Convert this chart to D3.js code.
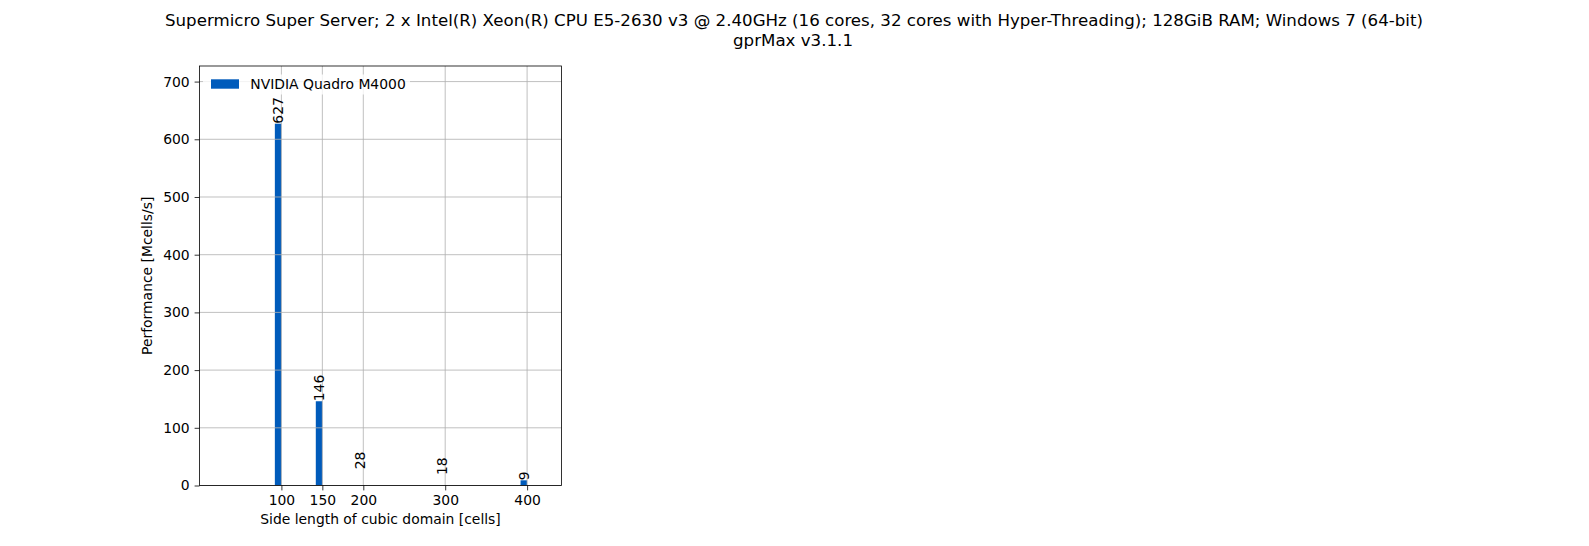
<!DOCTYPE html>
<html>
<head>
<meta charset="utf-8">
<script src="https://cdnjs.cloudflare.com/ajax/libs/d3/7.8.5/d3.min.js"></script>
<style>
  body { margin: 0; background: #fff; }
  text { font-family: "DejaVu Sans", sans-serif; fill: #000; }
</style>
</head>
<body>
<div id="chart"></div>
<script>
// data
const domainSizes = [100, 150, 200, 300, 400];
const perfLabels = [627, 146, 28, 18, 9];     // numbers printed above each bar
const barHeights = [627, 146, 0, 0, 9];       // no bar is drawn at 200 and 300
const xTicks = [100, 150, 200, 300, 400];
const yTicks = [0, 100, 200, 300, 400, 500, 600, 700];
const seriesName = 'NVIDIA Quadro M4000';
const titleLines = [
    'Supermicro Super Server; 2 x Intel(R) Xeon(R) CPU E5-2630 v3 @ 2.40GHz (16 cores, 32 cores with Hyper-Threading); 128GiB RAM; Windows 7 (64-bit)',
    'gprMax v3.1.1'
];

const W = 1589, H = 546;
const margin = {top: 66, right: W - 561.5, bottom: H - 485.5, left: 199.5};
const fs = 13.9;
const barColor = '#005bbb';
const barWidth = 8;

const svg = d3.select('#chart').append('svg')
    .attr('width', W)
    .attr('height', H);

const x = d3.scaleLinear().domain([0, 442]).range([margin.left, W - margin.right]);
const y = d3.scaleLinear().domain([0, 727]).range([H - margin.bottom, margin.top]);

// bars (drawn under the grid, like matplotlib patches)
svg.append('g').selectAll('rect')
    .data(domainSizes)
    .enter()
    .append('rect')
    .attr('x', function(d){ return x(d - barWidth); })
    .attr('y', function(d, i){ return y(barHeights[i]); })
    .attr('width', function(d){ return x(d) - x(d - barWidth); })
    .attr('height', function(d, i){ return y(0) - y(barHeights[i]); })
    .attr('fill', barColor);

// grid
const grid = svg.append('g').attr('stroke', '#b0b0b0').attr('stroke-width', 0.8);
grid.selectAll('line.gx')
    .data(xTicks)
    .enter()
    .append('line')
    .attr('x1', function(d){ return x(d); })
    .attr('x2', function(d){ return x(d); })
    .attr('y1', y.range()[0])
    .attr('y2', y.range()[1]);
grid.selectAll('line.gy')
    .data(yTicks)
    .enter()
    .append('line')
    .attr('y1', function(d){ return y(d); })
    .attr('y2', function(d){ return y(d); })
    .attr('x1', x.range()[0])
    .attr('x2', x.range()[1]);

// axes
const xAxis = svg.append('g')
    .attr('transform', 'translate(0,' + y(0) + ')')
    .call(d3.axisBottom(x).tickValues(xTicks).tickSize(4.9).tickPadding(4.4).tickSizeOuter(0));
const yAxis = svg.append('g')
    .attr('transform', 'translate(' + x.range()[0] + ',0)')
    .call(d3.axisLeft(y).tickValues(yTicks).tickSize(4.9).tickPadding(4.9).tickSizeOuter(0));
[xAxis, yAxis].forEach(function(a){
    a.select('.domain').remove();
    a.selectAll('line').attr('stroke', '#000').attr('stroke-width', 0.8);
    a.selectAll('text')
        .attr('font-family', '"DejaVu Sans", sans-serif')
        .attr('font-size', fs)
        .attr('fill', '#000');
});

// frame
svg.append('rect')
    .attr('x', x.range()[0])
    .attr('y', y.range()[1])
    .attr('width', x.range()[1] - x.range()[0])
    .attr('height', y.range()[0] - y.range()[1])
    .attr('fill', 'none')
    .attr('stroke', '#000')
    .attr('stroke-width', 0.8);

// value labels, rotated
svg.append('g').selectAll('text')
    .data(domainSizes)
    .enter()
    .append('text')
    .attr('transform', function(d, i){
        return 'translate(' + x(d - barWidth / 2) + ',' + y(perfLabels[i]) + ') rotate(-90)';
    })
    .attr('dy', '0.35em')
    .attr('font-size', fs)
    .text(function(d, i){ return perfLabels[i]; });

// legend
const lg = svg.append('g');
lg.append('rect')
    .attr('x', 203).attr('y', 74.5)
    .attr('width', 207).attr('height', 20)
    .attr('fill', '#fff').attr('fill-opacity', 0.8);
lg.append('rect')
    .attr('x', 211).attr('y', 79.3)
    .attr('width', 28).attr('height', 9.4)
    .attr('fill', barColor);
lg.append('text')
    .attr('x', 250.3).attr('y', 89.3)
    .attr('font-size', fs)
    .text(seriesName);

// axis titles
svg.append('text')
    .attr('x', (x.range()[0] + x.range()[1]) / 2)
    .attr('y', 524)
    .attr('text-anchor', 'middle')
    .attr('font-size', fs)
    .text('Side length of cubic domain [cells]');
svg.append('text')
    .attr('transform', 'translate(151.5,' + (y.range()[0] + y.range()[1]) / 2 + ') rotate(-90)')
    .attr('text-anchor', 'middle')
    .attr('font-size', fs)
    .text('Performance [Mcells/s]');

// title
const t = svg.append('text')
    .attr('text-anchor', 'middle')
    .attr('font-size', 16.67);
t.append('tspan').attr('x', 794).attr('y', 25.5)
    .attr('textLength', 1258).attr('lengthAdjust', 'spacingAndGlyphs')
    .text(titleLines[0]);
t.append('tspan').attr('x', 793).attr('y', 45.5).text(titleLines[1]);
</script>
</body>
</html>
